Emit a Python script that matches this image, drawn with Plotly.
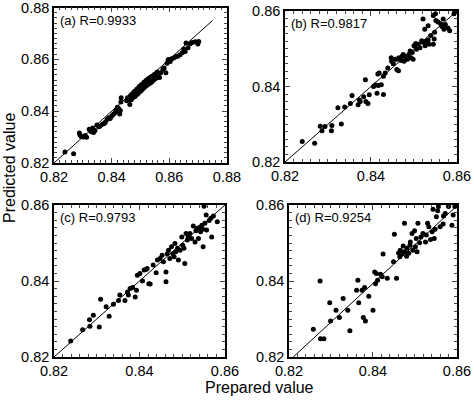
import plotly.graph_objects as go

# panel (a)
a_x = [0.8238, 0.8268, 0.8288, 0.8290, 0.8294, 0.8302, 0.8308, 0.8313, 0.8322, 0.8328,
       0.8334, 0.8337, 0.8342, 0.8349, 0.8355, 0.8360, 0.8368, 0.8374, 0.8378, 0.8384,
       0.8390, 0.8395, 0.8401, 0.8406, 0.8412, 0.8418, 0.8424, 0.8430, 0.8433, 0.8432,
       0.8428, 0.8420, 0.8415, 0.8452, 0.8455, 0.8460, 0.8463, 0.8465, 0.8468, 0.8470,
       0.8473, 0.8475, 0.8478, 0.8480, 0.8482, 0.8485, 0.8487, 0.8490, 0.8492, 0.8494,
       0.8496, 0.8498, 0.8500, 0.8502, 0.8504, 0.8506, 0.8508, 0.8510, 0.8512, 0.8514,
       0.8516, 0.8518, 0.8520, 0.8522, 0.8524, 0.8526, 0.8528, 0.8530, 0.8532, 0.8535,
       0.8537, 0.8540, 0.8542, 0.8545, 0.8548, 0.8550, 0.8553, 0.8556, 0.8558, 0.8562,
       0.8566, 0.8570, 0.8578, 0.8582, 0.8588, 0.8592, 0.8596, 0.8600, 0.8603, 0.8608,
       0.8615, 0.8622, 0.8629, 0.8637, 0.8645, 0.8650, 0.8655, 0.8658, 0.8665, 0.8672,
       0.8680, 0.8690, 0.8699, 0.8702]
a_y = [0.8242, 0.8236, 0.8316, 0.8308, 0.8302, 0.8300, 0.8306, 0.8299, 0.8330, 0.8322,
       0.8335, 0.8318, 0.8325, 0.8347, 0.8340, 0.8343, 0.8350, 0.8352, 0.8357, 0.8368,
       0.8375, 0.8372, 0.8382, 0.8388, 0.8394, 0.8400, 0.8410, 0.8403, 0.8452, 0.8435,
       0.8389, 0.8415, 0.8405, 0.8440, 0.8452, 0.8445, 0.8426, 0.8460, 0.8444, 0.8465,
       0.8452, 0.8468, 0.8475, 0.8456, 0.8478, 0.8462, 0.8485, 0.8466, 0.8488, 0.8472,
       0.8495, 0.8476, 0.8498, 0.8480, 0.8503, 0.8484, 0.8505, 0.8489, 0.8512, 0.8492,
       0.8514, 0.8497, 0.8519, 0.8500, 0.8521, 0.8504, 0.8526, 0.8506, 0.8528, 0.8510,
       0.8533, 0.8514, 0.8536, 0.8520, 0.8542, 0.8524, 0.8544, 0.8529, 0.8551, 0.8533,
       0.8530, 0.8548, 0.8562, 0.8567, 0.8548, 0.8585, 0.8598, 0.8599, 0.8592, 0.8602,
       0.8605, 0.8610, 0.8612, 0.8618, 0.8625, 0.8640, 0.8630, 0.8663, 0.8645, 0.8660,
       0.8665, 0.8668, 0.8659, 0.8669]

# panel (b)
b_x = [0.8240, 0.8269, 0.8282, 0.8286, 0.8293, 0.8308, 0.8309, 0.8331, 0.8323, 0.8339,
       0.8352, 0.8356, 0.8370, 0.8373, 0.8375, 0.8383, 0.8387, 0.8388, 0.8393, 0.8396,
       0.8406, 0.8410, 0.8414, 0.8417, 0.8416, 0.8419, 0.8424, 0.8429, 0.8429, 0.8433,
       0.8439, 0.8447, 0.8448, 0.8452, 0.8456, 0.8460, 0.8460, 0.8464, 0.8465, 0.8470,
       0.8473, 0.8475, 0.8477, 0.8481, 0.8485, 0.8488, 0.8491, 0.8493, 0.8496, 0.8498,
       0.8500, 0.8504, 0.8506, 0.8510, 0.8514, 0.8518, 0.8521, 0.8526, 0.8529, 0.8533,
       0.8535, 0.8539, 0.8545, 0.8547, 0.8548, 0.8521, 0.8525, 0.8533, 0.8545, 0.8550,
       0.8551, 0.8556, 0.8562, 0.8565, 0.8568, 0.8570, 0.8573, 0.8579, 0.8583, 0.8593,
       0.8595]
b_y = [0.8254, 0.8250, 0.8295, 0.8283, 0.8294, 0.8283, 0.8297, 0.8301, 0.8344, 0.8346,
       0.8355, 0.8376, 0.8352, 0.8364, 0.8360, 0.8373, 0.8418, 0.8360, 0.8355, 0.8378,
       0.8400, 0.8404, 0.8382, 0.8403, 0.8433, 0.8436, 0.8405, 0.8379, 0.8427, 0.8436,
       0.8449, 0.8476, 0.8467, 0.8460, 0.8472, 0.8445, 0.8472, 0.8442, 0.8476, 0.8469,
       0.8481, 0.8485, 0.8467, 0.8479, 0.8472, 0.8485, 0.8494, 0.8476, 0.8490, 0.8472,
       0.8508, 0.8514, 0.8499, 0.8512, 0.8503, 0.8521, 0.8517, 0.8508, 0.8520, 0.8523,
       0.8512, 0.8535, 0.8512, 0.8526, 0.8544, 0.8579, 0.8552, 0.8561, 0.8588, 0.8593,
       0.8575, 0.8571, 0.8566, 0.8559, 0.8579, 0.8552, 0.8564, 0.8555, 0.8548, 0.8593,
       0.8597]

# panel (c)
c_x = [0.8239, 0.8267, 0.8284, 0.8283, 0.8292, 0.8306, 0.8309, 0.8322, 0.8329, 0.8339,
       0.8351, 0.8354, 0.8366, 0.8372, 0.8374, 0.8378, 0.8384, 0.8390, 0.8393, 0.8395,
       0.8401, 0.8407, 0.8411, 0.8415, 0.8418, 0.8422, 0.8425, 0.8432, 0.8439, 0.8442,
       0.8448, 0.8453, 0.8456, 0.8462, 0.8462, 0.8465, 0.8468, 0.8471, 0.8475, 0.8478,
       0.8481, 0.8483, 0.8485, 0.8489, 0.8491, 0.8495, 0.8499, 0.8501, 0.8504, 0.8506,
       0.8509, 0.8512, 0.8514, 0.8518, 0.8522, 0.8526, 0.8530, 0.8532, 0.8535, 0.8538,
       0.8540, 0.8543, 0.8546, 0.8548, 0.8549, 0.8551, 0.8553, 0.8556, 0.8557, 0.8563,
       0.8567, 0.8569, 0.8573, 0.8582]
c_y = [0.8242, 0.8272, 0.8281, 0.8298, 0.8310, 0.8279, 0.8352, 0.8332, 0.8307, 0.8339,
       0.8349, 0.8363, 0.8349, 0.8371, 0.8363, 0.8380, 0.8383, 0.8358, 0.8376, 0.8415,
       0.8420, 0.8400, 0.8429, 0.8430, 0.8433, 0.8393, 0.8392, 0.8442, 0.8422, 0.8455,
       0.8459, 0.8468, 0.8451, 0.8424, 0.8398, 0.8472, 0.8481, 0.8459, 0.8490, 0.8472,
       0.8464, 0.8499, 0.8477, 0.8486, 0.8455, 0.8481, 0.8516, 0.8494, 0.8486, 0.8446,
       0.8525, 0.8508, 0.8516, 0.8525, 0.8512, 0.8545, 0.8503, 0.8532, 0.8538, 0.8512,
       0.8541, 0.8530, 0.8547, 0.8536, 0.8490, 0.8597, 0.8552, 0.8574, 0.8534, 0.8559,
       0.8565, 0.8516, 0.8571, 0.8556]

# panel (d)
d_x = [0.8258, 0.8274, 0.8275, 0.8283, 0.8297, 0.8299, 0.8312, 0.8320, 0.8329, 0.8340,
       0.8345, 0.8361, 0.8364, 0.8366, 0.8374, 0.8377, 0.8382, 0.8380, 0.8390, 0.8400,
       0.8404, 0.8408, 0.8406, 0.8411, 0.8418, 0.8422, 0.8424, 0.8434, 0.8449, 0.8451,
       0.8456, 0.8461, 0.8464, 0.8465, 0.8469, 0.8472, 0.8475, 0.8475, 0.8480, 0.8481,
       0.8485, 0.8488, 0.8489, 0.8493, 0.8495, 0.8499, 0.8501, 0.8503, 0.8505, 0.8507,
       0.8511, 0.8514, 0.8519, 0.8525, 0.8527, 0.8530, 0.8533, 0.8537, 0.8541, 0.8543,
       0.8546, 0.8548, 0.8551, 0.8554, 0.8556, 0.8560, 0.8567, 0.8568, 0.8572, 0.8580,
       0.8588, 0.8591, 0.8595]
d_y = [0.8273, 0.8400, 0.8248, 0.8248, 0.8343, 0.8295, 0.8323, 0.8304, 0.8354, 0.8323,
       0.8269, 0.8376, 0.8402, 0.8343, 0.8376, 0.8304, 0.8295, 0.8383, 0.8360, 0.8323,
       0.8424, 0.8420, 0.8393, 0.8402, 0.8418, 0.8411, 0.8471, 0.8407, 0.8451, 0.8523,
       0.8407, 0.8474, 0.8464, 0.8481, 0.8471, 0.8492, 0.8552, 0.8477, 0.8465, 0.8486,
       0.8473, 0.8494, 0.8503, 0.8525, 0.8481, 0.8532, 0.8490, 0.8512, 0.8477, 0.8552,
       0.8501, 0.8516, 0.8525, 0.8503, 0.8521, 0.8552, 0.8543, 0.8509, 0.8530, 0.8589,
       0.8512, 0.8536, 0.8569, 0.8585, 0.8596, 0.8543, 0.8550, 0.8571, 0.8578, 0.8596,
       0.8547, 0.8574, 0.8596]

# fitted lines
fit_a_x = [0.82, 0.875]
fit_a_y = [0.82, 0.875]
fit_b_x = [0.82, 0.86]
fit_b_y = [0.82, 0.86]
fit_c_x = [0.82, 0.86]
fit_c_y = [0.82, 0.86]
fit_d_x = [0.821, 0.86]
fit_d_y = [0.82, 0.8598]

labels = ["(a) R=0.9933", "(b) R=0.9817", "(c) R=0.9793", "(d) R=0.9254"]
ranges = [[0.82, 0.88001], [0.82, 0.86001], [0.82, 0.86001], [0.82, 0.86001]]

W, H = 474, 407
# panel boxes in pixels: left, right, top, bottom
boxes = [(54, 227, 7.5, 163), (285, 457, 11, 162), (54, 225, 205, 357), (289, 457, 205, 357)]

points = [(a_x, a_y), (b_x, b_y), (c_x, c_y), (d_x, d_y)]
fits = [(fit_a_x, fit_a_y), (fit_b_x, fit_b_y), (fit_c_x, fit_c_y), (fit_d_x, fit_d_y)]

fig = go.Figure()
font = dict(family="Liberation Sans, Arial, sans-serif", size=14.5, color="#000")

for i in range(4):
    n = "" if i == 0 else str(i + 1)
    px, py = points[i]
    fx, fy = fits[i]
    fig.add_trace(go.Scatter(x=fx, y=fy, mode="lines", xaxis="x" + n, yaxis="y" + n,
                             line=dict(color="#000", width=1)))
    fig.add_trace(go.Scatter(x=px, y=py, mode="markers", xaxis="x" + n, yaxis="y" + n,
                             marker=dict(color="#000", size=5, line=dict(width=0))))
    l, r, t, b = boxes[i]
    ax = dict(range=ranges[i], tick0=0.82, dtick=0.02, tickformat=".2f", ticks="inside", ticklen=5,
              tickwidth=1, showline=True, linecolor="#000", linewidth=1.5, mirror="allticks",
              showgrid=False, zeroline=False, tickfont=font, automargin=False,
              ticklabeloverflow="allow",
              minor=dict(dtick=0.002, ticks="inside", ticklen=3, tickwidth=1, showgrid=False))
    fig.layout["xaxis" + n] = dict(ax, domain=[l / W, r / W], anchor="y" + n)
    fig.layout["yaxis" + n] = dict(ax, domain=[1 - b / H, 1 - t / H], anchor="x" + n)
    fig.add_annotation(text=labels[i], xref="paper", yref="paper",
                       x=(l + 4) / W, y=1 - (t + 3) / H, xanchor="left", yanchor="top",
                       showarrow=False, font=dict(font, size=13))

fig.add_annotation(text="Predicted value", xref="paper", yref="paper", x=9 / W, y=1 - 168 / H,
                   xanchor="center", yanchor="middle",
                   textangle=-90, showarrow=False, font=dict(font, size=16))
fig.add_annotation(text="Prepared value", xref="paper", yref="paper", x=259 / W, y=1 - 387 / H,
                   xanchor="center", yanchor="middle",
                   showarrow=False, font=dict(font, size=16))

fig.update_layout(template="none", width=W, height=H, showlegend=False,
                  plot_bgcolor="#fff", paper_bgcolor="#fff",
                  margin=dict(l=0, r=0, t=0, b=0, autoexpand=False))

# the page body has a default 8px margin; remove it so the figure fills the window
fig.write_html("out.html", config={"displayModeBar": False},
               post_script="document.body.style.margin='0px';")
